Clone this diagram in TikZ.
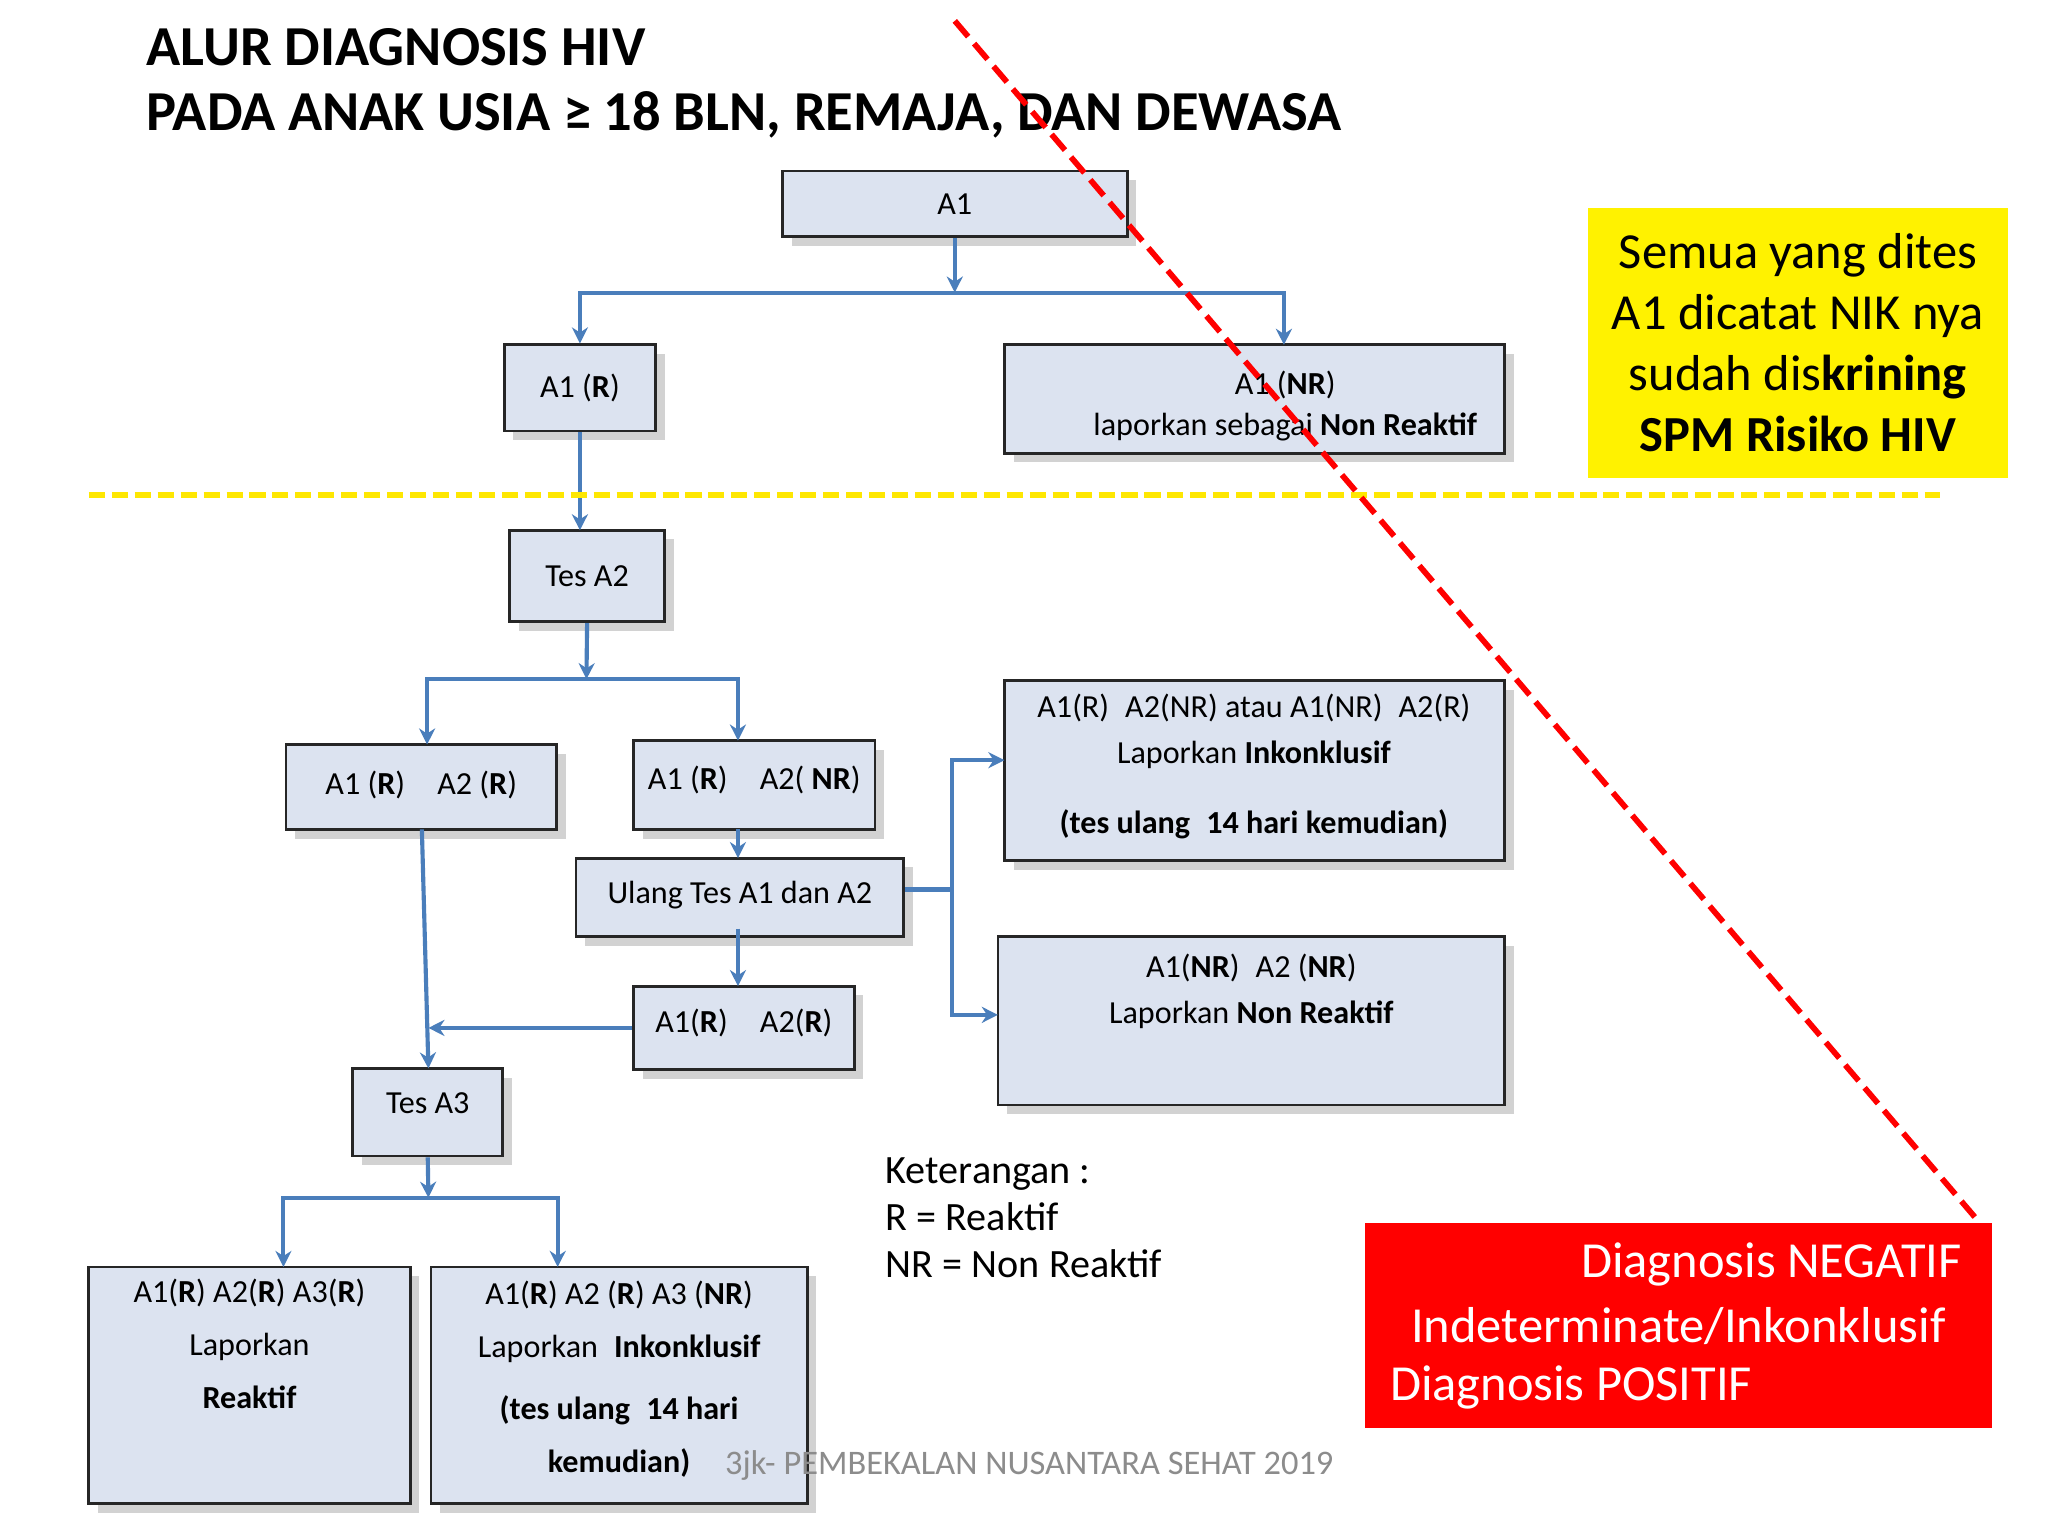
\documentclass[tikz,border=0pt]{standalone}
\usepackage{fontspec}
\setmainfont{Carlito}
\usetikzlibrary{shadows,arrows.meta}
\definecolor{boxfill}{HTML}{DCE3F0}
\definecolor{conn}{HTML}{4A7EBB}
\begin{document}
\begin{tikzpicture}[x=0.02cm,y=-0.02cm,
 box/.style={draw=black!85,line width=1.2pt,fill=boxfill,inner sep=0pt,align=center,font=\fontsize{14}{20}\selectfont,
   drop shadow={shadow xshift=4pt,shadow yshift=-4pt,fill=black!35}},
 con/.style={draw=conn,line width=1.8pt},
 arr/.style={con,-{Stealth[length=7pt,width=7pt]}}]
\useasboundingbox (0,0) rectangle (1568,1176);
\fill[white] (0,0) rectangle (1568,1176);
\node[anchor=west,font=\fontsize{24.6}{28}\selectfont\bfseries] (t1) at (106,36) {ALUR DIAGNOSIS HIV};
\node[anchor=west,font=\fontsize{24.6}{28}\selectfont\bfseries] (t2) at (106,88) {PADA ANAK USIA ≥ 18 BLN, REMAJA, DAN DEWASA};
% boxes
\node[box,minimum width=264*0.02cm,minimum height=50*0.02cm] (a1) at (731,156) {A1};
\node[box,minimum width=116*0.02cm,minimum height=66*0.02cm] (a1r) at (444,297) {A1 (\textbf{R})};
\node[box,minimum width=383*0.02cm,minimum height=83*0.02cm] (a1nr) at (960.5,305.5) {};
\node[font=\fontsize{14}{20}\selectfont,align=center] (a1nrt) at (984,311) {A1 (\textbf{NR})\\[-2pt]laporkan sebagai \textbf{Non Reaktif}};
\node[box,minimum width=119*0.02cm,minimum height=70*0.02cm] (ta2) at (449.5,441) {Tes A2};
\node[box,minimum width=207*0.02cm,minimum height=65*0.02cm] (rr) at (322.5,602.5) {\raisebox{4pt}{A1 (\textbf{R})\quad A2 (\textbf{R})}};
\node[box,minimum width=185*0.02cm,minimum height=68*0.02cm] (rnr) at (577.5,601) {\raisebox{6pt}{A1 (\textbf{R})\quad A2( \textbf{NR})}};
\node[box,minimum width=251*0.02cm,minimum height=60*0.02cm] (ul) at (566.5,687) {\raisebox{4pt}{Ulang Tes A1 dan A2}};
\node[box,minimum width=383*0.02cm,minimum height=138*0.02cm] (ink) at (960.5,590) {};
\node[font=\fontsize{14}{20}\selectfont,align=center] (inkt) at (960,560) {A1(R)\enspace A2(NR) atau A1(NR)\enspace A2(R)\\Laporkan \textbf{Inkonklusif}};
\node[font=\fontsize{14}{20}\selectfont\bfseries] (inkt2) at (960,631) {(tes ulang\enspace 14 hari kemudian)};
\node[box,minimum width=388*0.02cm,minimum height=129*0.02cm] (nr) at (958,781.5) {};
\node[font=\fontsize{14}{20}\selectfont,align=center] (nrt) at (958,759) {A1(\textbf{NR})\enspace A2 (\textbf{NR})\\Laporkan \textbf{Non Reaktif}};
\node[box,minimum width=169*0.02cm,minimum height=64*0.02cm] (rr2) at (569.5,787) {\raisebox{6pt}{A1(\textbf{R})\quad A2(\textbf{R})}};
\node[box,minimum width=115*0.02cm,minimum height=67*0.02cm] (ta3) at (327.5,851.5) {\raisebox{8pt}{Tes A3}};
\node[box,minimum width=246*0.02cm,minimum height=181*0.02cm] (bl) at (191,1060.5) {};
\node[font=\fontsize{14}{20}\selectfont,align=center] (blt) at (191,1029) {A1(\textbf{R}) A2(\textbf{R}) A3(\textbf{R})\\[3pt]Laporkan\\[3pt]\textbf{Reaktif}};
\node[box,minimum width=288*0.02cm,minimum height=181*0.02cm] (br) at (474,1060.5) {};
\node[font=\fontsize{14}{20}\selectfont,align=center] (brt) at (474,1012) {A1(\textbf{R}) A2 (\textbf{R}) A3 (\textbf{NR})\\[3pt]Laporkan\enspace\textbf{Inkonklusif}};
\node[font=\fontsize{14}{20}\selectfont\bfseries,align=center] (brt2) at (474,1100) {(tes ulang\enspace 14 hari\\[3pt]kemudian)};
% side panels
\node[fill=yellow,minimum width=321*0.02cm,minimum height=207*0.02cm,inner sep=0pt,align=center,font=\fontsize{22}{26.5}\selectfont] (yel) at (1376.5,262.5) {Semua yang dites\\A1 dicatat NIK nya\\sudah dis\textbf{krining}\\\textbf{SPM Risiko HIV}};
\node[fill=red,minimum width=480*0.02cm,minimum height=157*0.02cm,inner sep=0pt] (redb) at (1285,1014.5) {};
\node[anchor=east,text=white,font=\fontsize{22}{30}\selectfont] (rd1) at (1508,968) {Diagnosis NEGATIF};
\node[anchor=center,text=white,font=\fontsize{22}{30}\selectfont] (rd2) at (1285,1015) {Indeterminate/Inkonklusif};
\node[anchor=west,text=white,font=\fontsize{22}{30}\selectfont] (rd3) at (1058,1062) {Diagnosis POSITIF};
\node[anchor=west,font=\fontsize{17.5}{20.5}\selectfont,align=left] (ket) at (672,932) {Keterangan :\\R = Reaktif\\NR = Non Reaktif};
\node[anchor=west,text=black!45,font=\fontsize{15}{20}\selectfont] (ft) at (549,1122) {3jk- PEMBEKALAN NUSANTARA SEHAT 2019};
% connectors
\coordinate (j1) at (731,224);
\draw[arr] (a1.south) -- (j1);
\draw[arr] (j1) -| (a1r.north);
\draw[arr] (j1) -| (983,264);
\draw[arr] (a1r.south) -- (444,406);
\coordinate (j2) at (449,520);
\draw[arr] (ta2.south) -- (j2);
\draw[arr] (j2) -| (327,570);
\draw[arr] (j2) -| (565,567);
\draw[arr] (565,635) -- (565,657);
\draw[arr] (565,711) -- (565,755);
\coordinate (j3) at (729,681);
\draw[con] (ul.east|-j3) -- (j3);
\draw[arr] (j3) |- (769,582);
\draw[arr] (j3) |- (764,777);
\draw[arr] (323,635) -- (328,818);
\draw[arr] (rr2.west|-0,787) -- (328,787);
\coordinate (j4) at (328,917);
\draw[arr] (ta3.south) -- (j4);
\draw[arr] (j4) -| (217,970);
\draw[arr] (j4) -| (427,970);
\draw[con] (217,917) -- (428,917);
% dashed lines
\draw[yellow!90!orange,line width=3pt,dash pattern=on 7pt off 3pt] (68,379) -- (1485,379);
\draw[red,line width=2.5pt,dash pattern=on 9pt off 4pt] (731,16) -- (1513,933);
\end{tikzpicture}
\end{document}
